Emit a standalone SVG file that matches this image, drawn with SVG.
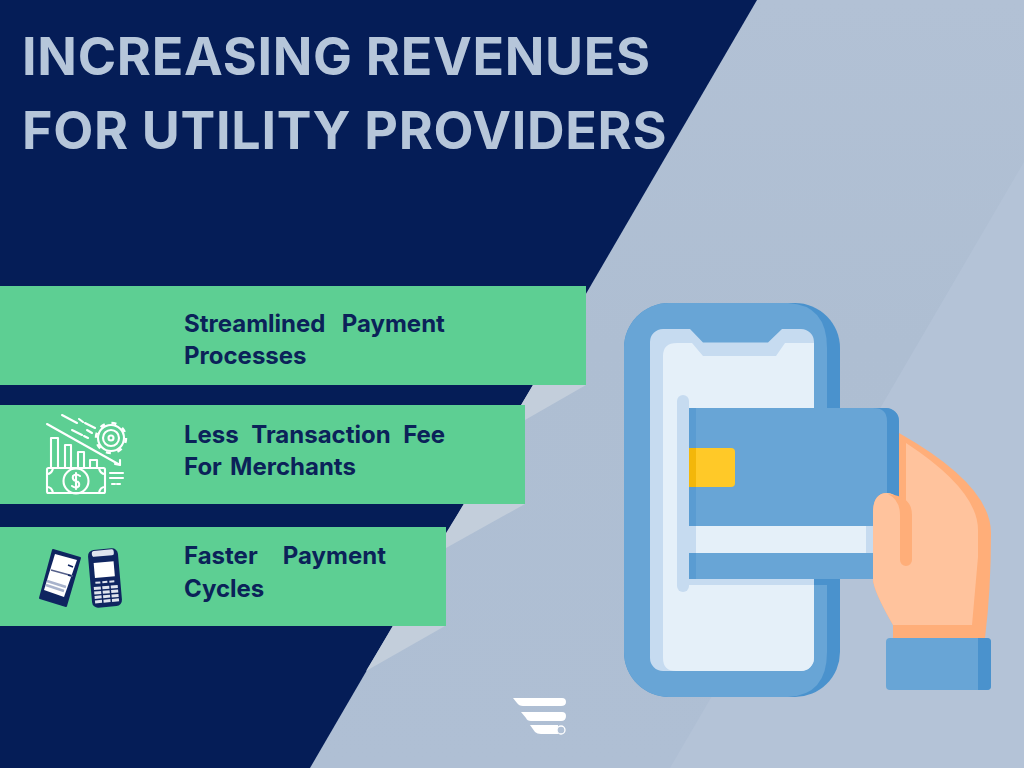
<svg xmlns="http://www.w3.org/2000/svg" width="1024" height="768" viewBox="0 0 1024 768">
<defs>
<linearGradient id="bg" x1="0" y1="0" x2="0" y2="1"><stop offset="0" stop-color="#b2c1d5"/><stop offset="0.45" stop-color="#aebed2"/><stop offset="1" stop-color="#afbfd4"/></linearGradient>
</defs>
<style>
.title{font-family:Inter,"Liberation Sans",sans-serif;font-weight:700;font-size:52px;fill:#b6c6da;letter-spacing:0.7px}
.body{font-family:Inter,"Liberation Sans",sans-serif;font-weight:700;font-size:24px;fill:#0b2259}
.box{fill:#5dcf93}
.shade{fill:#c3cedb}
.w{fill:none;stroke:#fff;stroke-width:2.1;stroke-linecap:round;stroke-linejoin:round}
.n{fill:#0f2560}
.k{fill:#dfe4ee}
</style>
<rect width="1024" height="768" fill="url(#bg)"/>
<polygon points="1024,162 1024,768 670,768" fill="#b4c3d7"/>
<polygon points="0,0 757,0 310,768 0,768" fill="#051d57"/>
<g id="shadows">
<polygon class="shade" points="533,385 586,385 525,420 525,405 521,405"/>
<polygon class="shade" points="464,504 525,504 446,548 446,533"/>
<polygon class="shade" points="393,626 445,626 366,671"/>
</g>
<g id="title">
<text class="title" x="22" y="75">INCREASING REVENUES</text>
<text class="title" x="22" y="149" letter-spacing="0.9">FOR UTILITY PROVIDERS</text>
</g>
<g id="node-streamlined">
<rect class="box" x="0" y="286" width="586" height="99"/>
<text class="body" x="184" y="332" word-spacing="10.600">Streamlined Payment</text>
<text class="body" x="184" y="364">Processes</text>
</g>
<g id="node-fee">
<rect class="box" x="0" y="405" width="525" height="99"/>
<text class="body" x="184" y="443" word-spacing="6.800">Less Transaction Fee</text>
<text class="body" x="184" y="475" word-spacing="2.500">For Merchants</text>
<g class="w">
<path d="M47 424L120 465L120 460M120 465L115 464"/>
<path d="M62 415L77 423M79 419L83 422M85 423L95 428M72 430L82 435M87 430L92 433M84 436L88 438"/>
<circle cx="111" cy="438" r="13"/>
<circle cx="111" cy="438" r="15" stroke-width="2.500" stroke-dasharray="5 6.780" stroke-linecap="butt"/>
<circle cx="111" cy="438" r="8"/>
<circle cx="111" cy="438" r="2.500"/>
<path d="M51 467V438H58V467M65 467V445H71V467M78 467V452H84V467M90 467V460H97V467"/>
<rect x="47" y="468" width="58" height="25" rx="1.500"/>
<circle cx="76" cy="481" r="12.500"/>
<path d="M80 476Q76 473 73 476Q72 480 76 481Q80 482 79 486Q76 489 72 486M76 473V489"/>
<path d="M47 474Q52 474 53 468M99 468Q100 474 105 474M47 487Q52 487 53 493M99 493Q100 487 105 487"/>
<path d="M110 473H123M110 478H123M112 484H115M117 484H120"/>
</g>
</g>
<g id="node-cycles">
<rect class="box" x="0" y="527" width="446" height="99"/>
<text class="body" x="184" y="564" word-spacing="19.400">Faster Payment</text>
<text class="body" x="184" y="597">Cycles</text>
<g>
<polygon class="n" stroke="#0f2560" stroke-width="2" stroke-linejoin="round" points="53,550 80,558 66,606 40,598"/>
<polygon fill="#fff" points="55,554 77,560 64,597 44,590"/>
<path d="M51 570L73 576" stroke="#55608a" stroke-width="1.500"/>
<path d="M47 581L66 587M46 585L64 591" stroke="#a8b3cc" stroke-width="2.500"/>
<path d="M68 565L73 567M68 575L71 576" stroke="#0f2560" stroke-width="1.500"/>
<g transform="rotate(-5 105 578)">
<rect x="90" y="549" width="30" height="58" rx="6" class="n"/>
<rect x="94" y="550" width="22" height="6" rx="2" class="k"/>
<rect x="95" y="562" width="20" height="15" fill="#fff"/>
<rect x="95" y="581" width="5" height="2" class="k"/><rect x="102" y="581" width="5" height="2" class="k"/><rect x="109" y="581" width="5" height="2" class="k"/>
<g class="k">
<rect x="93" y="586" width="7" height="3"/><rect x="101.500" y="586" width="7" height="3"/><rect x="110" y="586" width="7" height="3"/>
<rect x="93" y="590.500" width="7" height="3"/><rect x="101.500" y="590.500" width="7" height="3"/><rect x="110" y="590.500" width="7" height="3"/>
<rect x="93" y="595" width="7" height="3"/><rect x="101.500" y="595" width="7" height="3"/><rect x="110" y="595" width="7" height="3"/>
<rect x="93" y="599.500" width="7" height="3"/><rect x="101.500" y="599.500" width="7" height="3"/><rect x="110" y="599.500" width="7" height="3"/>
</g>
</g>
</g>
</g>
<g id="phone-card">
<rect x="624" y="303" width="216" height="394" rx="45" fill="#4a92cd"/>
<path d="M669 303H788Q827 305 827 348V652Q827 695 788 697H669A45 45 0 0 1 624 652V348A45 45 0 0 1 669 303Z" fill="#68a5d6"/>
<path d="M663 329H690L703 342.500H768L782 329H801A13 13 0 0 1 814 342V658A13 13 0 0 1 801 671H663A13 13 0 0 1 650 658V342A13 13 0 0 1 663 329Z" fill="#c6dbf0"/>
<path d="M677 343H692L703 356H776L785 343H814V658A13 13 0 0 1 801 671H676Q663 671 663 658V356Q663 343 677 343Z" fill="#e5f0f9"/>
<rect x="677" y="395" width="12" height="197" rx="6" fill="#c6dbf0"/>
<rect x="689" y="579" width="125" height="6" fill="#c6dbf0"/>
<rect x="814" y="579" width="26" height="6" fill="#4a92cd"/>
<path d="M689 408H886A13 13 0 0 1 899 421V579H689Z" fill="#68a5d6"/>
<path d="M873 408H886A13 13 0 0 1 899 421V500H887V421Q887 408 873 408Z" fill="#4a92cd"/>
<rect x="689" y="408" width="7" height="171" fill="#5a9cd2"/>
<rect x="689" y="526" width="190" height="27" fill="#e5f0f9"/>
<rect x="689" y="526" width="7" height="27" fill="#c6dbf0"/>
<rect x="866" y="526" width="10" height="27" fill="#c6dbf0"/>
<path d="M689 448H731A4 4 0 0 1 735 452V483A4 4 0 0 1 731 487H689Z" fill="#ffc928"/>
<rect x="689" y="448" width="7" height="39" fill="#f3b70a"/>
</g>
<g id="hand">
<path d="M899 433Q991 485 991 533Q991 590 985 638H893V625Q873 590 873 579V513Q873 493 887 493Q895 493 899 500Z" fill="#ffae79"/>
<path d="M906 443Q978 490 978 530V557L972 625H893Q873 590 873 579V513Q873 493 887 493Q893 493 900 500H906Z" fill="#ffc39d"/>
<path d="M888 494Q912 496 912 515V560A6 6 0 0 1 900 560V515Q900 500 888 494Z" fill="#ffae79"/>
<rect x="886" y="638" width="105" height="52" rx="4" fill="#68a5d6"/>
<path d="M978 638H987A4 4 0 0 1 991 642V686A4 4 0 0 1 987 690H978Z" fill="#4a92cd"/>
</g>
<g id="logo">
<path d="M513 698H562Q566 698 566 702Q566 706 561 706H523Q519 706 517 703Z" fill="#fff"/>
<path d="M521 712H562Q566 712 566 716Q566 721 561 721H531Q527 721 526 718Z" fill="#fff"/>
<path d="M530 725H558L558 734H541Q537 734 535 732Z" fill="#fff"/>
<circle cx="561" cy="730" r="4" fill="#b1c1d6" stroke="#fff" stroke-width="1.300"/>
</g>
</svg>
